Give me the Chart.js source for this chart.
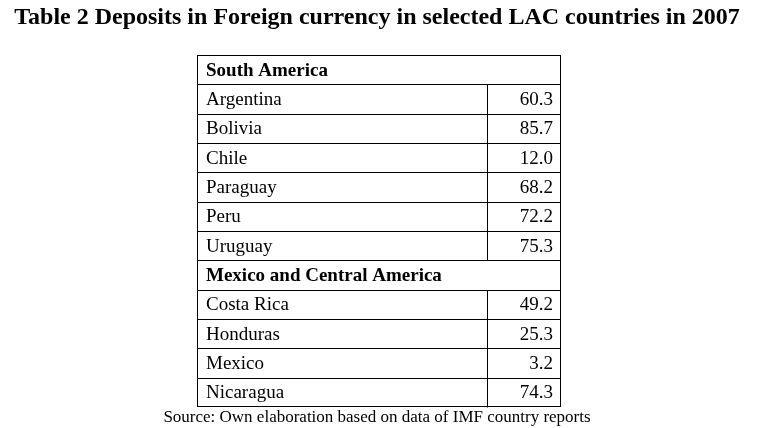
<!DOCTYPE html>
<html>
<head>
<meta charset="utf-8">
<script src="https://cdn.jsdelivr.net/npm/chart.js@4"></script>
<style>
  html, body { margin: 0; padding: 0; background: #fff; }
  #wrap { width: 764px; height: 428px; }
</style>
</head>
<body>
<div id="wrap"><canvas id="tableChart"></canvas></div>
<script>
// Table data
const title = "Table 2 Deposits in Foreign currency in selected LAC countries in 2007";
const source = "Source: Own elaboration based on data of IMF country reports";
const southAmerica = ["Argentina", "Bolivia", "Chile", "Paraguay", "Peru", "Uruguay"];
const southValues = [60.3, 85.7, 12.0, 68.2, 72.2, 75.3];
const centralAmerica = ["Costa Rica", "Honduras", "Mexico", "Nicaragua"];
const centralValues = [49.2, 25.3, 3.2, 74.3];

// rows: header rows have value null
const rowLabels = ["South America"].concat(southAmerica, ["Mexico and Central America"], centralAmerica);
const rowValues = [null].concat(southValues, [null], centralValues);

const serif = "'Liberation Serif', 'DejaVu Serif', serif";

const tablePlugin = {
    id: "tablePlugin",
    afterDraw(chart) {
        const ctx = chart.ctx;
        const area = chart.chartArea;
        const y = chart.scales.y;
        const x = chart.scales.x;
        const half = (y.getPixelForValue(1) - y.getPixelForValue(0)) / 2;
        const divX = x.getPixelForValue(79.7);
        ctx.save();
        // title
        ctx.fillStyle = "#000";
        ctx.font = "bold 24px " + serif;
        ctx.textAlign = "center";
        ctx.textBaseline = "middle";
        ctx.fillText(title, 377, 18);
        // source
        ctx.font = "17px " + serif;
        ctx.fillText(source, 377, 418);
        // outer border
        ctx.strokeStyle = "#000";
        ctx.lineWidth = 1;
        ctx.strokeRect(area.left + 0.5, area.top + 0.5, area.right - area.left - 1, area.bottom - area.top - 1);
        rowLabels.forEach((label, i) => {
            const cy = y.getPixelForValue(i);
            const top = Math.round(cy - half) + 0.5;
            const bottom = Math.round(cy + half) + 0.5;
            ctx.beginPath();
            ctx.moveTo(area.left, top);
            ctx.lineTo(area.right, top);
            ctx.stroke();
            const val = rowValues[i];
            ctx.textBaseline = "middle";
            if (val === null) {
                ctx.font = "bold 19px " + serif;
                ctx.textAlign = "left";
                ctx.fillText(label, area.left + 9, cy + 1);
            } else {
                ctx.beginPath();
                ctx.moveTo(Math.round(divX) + 0.5, top);
                ctx.lineTo(Math.round(divX) + 0.5, bottom);
                ctx.stroke();
                ctx.font = "19px " + serif;
                ctx.textAlign = "left";
                ctx.fillText(label, area.left + 9, cy + 1);
                ctx.textAlign = "right";
                ctx.fillText(val.toFixed(1), area.right - 8, cy + 1);
            }
        });
        ctx.restore();
    }
};

new Chart(document.getElementById("tableChart"), {
    type: "bar",
    data: {
        labels: rowLabels,
        datasets: [{
            data: rowValues,
            backgroundColor: "rgba(0,0,0,0)",
            borderWidth: 0
        }]
    },
    options: {
        indexAxis: "y",
        responsive: true,
        maintainAspectRatio: false,
        animation: false,
        layout: { padding: { left: 197, right: 203, top: 55, bottom: 21 } },
        scales: {
            x: { display: false, min: 0, max: 100 },
            y: { display: false, offset: true }
        },
        plugins: {
            legend: { display: false },
            tooltip: { enabled: false }
        }
    },
    plugins: [tablePlugin]
});
</script>
</body>
</html>
